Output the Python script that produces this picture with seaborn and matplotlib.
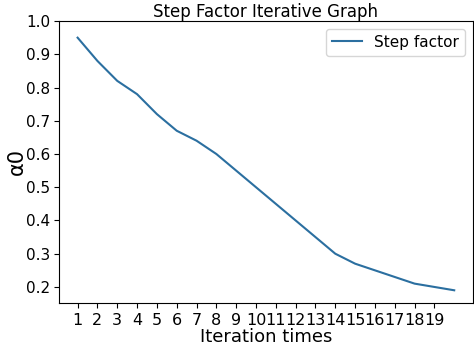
import numpy as np
import pandas as pd
import seaborn as sns
from matplotlib import pyplot as plt

# data
iterations = list(range(1, 21))
step_factor = [0.95, 0.88, 0.82, 0.78, 0.72, 0.67, 0.64, 0.60, 0.55, 0.50,
               0.45, 0.40, 0.35, 0.30, 0.27, 0.25, 0.23, 0.21, 0.20, 0.19]
xtick_labels = [str(i) for i in range(1, 20)]
yticks = [0.2, 0.3, 0.4, 0.5, 0.6, 0.7, 0.8, 0.9, 1.0]

df = pd.DataFrame({'iter': iterations, 'alpha': step_factor})

plt.rcParams['font.family'] = ['DejaVu Sans']
fig = plt.figure(figsize=(4.74, 3.45), dpi=100)
ax = fig.add_axes([0.124, 0.122, 0.874, 0.817])

sns.lineplot(data=df, x='iter', y='alpha', ax=ax, color='#2b6fa0',
             linewidth=1.5, label='Step factor')

ax.set_xticks(range(1, 20))
ax.set_xticklabels(xtick_labels, fontsize=11.5)
ax.set_yticks(yticks)
ax.tick_params(axis='y', labelsize=11, pad=2.5)
ax.set_ylim(0.152, 1.0)
ax.set_xlim(0.05, 20.95)
ax.set_title('Step Factor Iterative Graph', fontsize=12, pad=3)
ax.set_xlabel('Iteration times', fontsize=13, labelpad=0)
ax.set_ylabel('α0', fontsize=15)
ax.yaxis.set_label_coords(-0.078, 0.5)
ax.legend(loc='upper right', fontsize=11)

plt.savefig('out.png', dpi=100)
